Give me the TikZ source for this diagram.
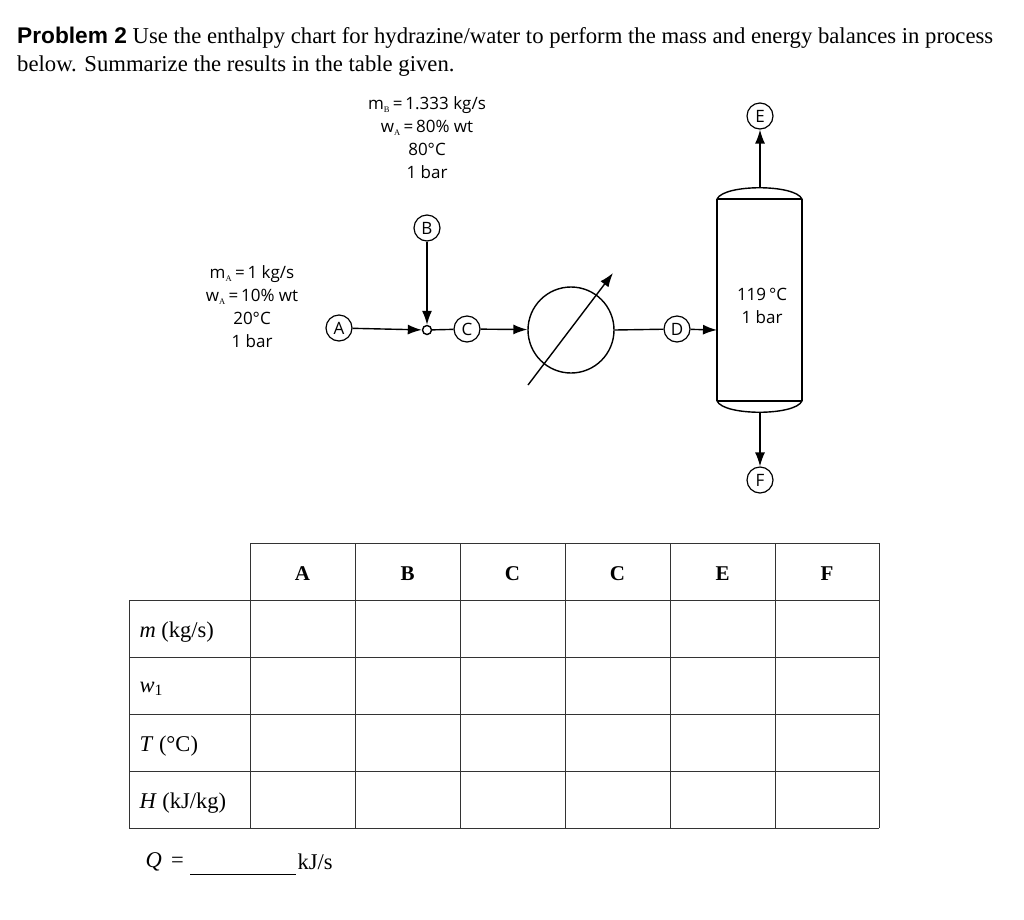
\documentclass[tikz,border=0pt]{standalone}
\usepackage{fontspec}
\setmainfont{Liberation Serif}
\newfontfamily\dsf{Open Sans}
\newfontfamily\tsf{Liberation Sans}
\usetikzlibrary{arrows.meta}
\begin{document}
\begin{tikzpicture}[x=1pt,y=-1pt,
  lbl/.style={circle,draw,line width=1.2pt,inner sep=0pt,minimum size=26pt,font=\dsf\fontsize{17}{17}\selectfont},
  dtxt/.style={align=center,font=\dsf\fontsize{17}{23}\selectfont},
  ln/.style={line width=1.4pt},
  arr/.style={ln,-{Latex[length=14pt,width=10pt]}},
  cell/.style={line width=1pt,draw=black!80},
  hd/.style={font=\bfseries\fontsize{21}{21}\selectfont},
  rl/.style={font=\fontsize{22.5}{21}\selectfont,anchor=west}]
\useasboundingbox (0,0) rectangle (1024,919);
\node[anchor=base west,inner sep=0,font=\fontsize{22.7}{28}\selectfont] (t1) at (17,43) {{\tsf\bfseries Problem 2} Use the enthalpy chart for hydrazine/water to perform the mass and energy balances in process};
\node[anchor=base west,inner sep=0,font=\fontsize{22.7}{28}\selectfont] (t2) at (17,71) {below. Summarize the results in the table given.};
% labels
\node[dtxt] (bt) at (427,138) {m$_{\scriptscriptstyle\rm B}$\,=\,1.333 kg/s\\w$_{\scriptscriptstyle\rm A}$\,=\,80\% wt\\80\textdegree C\\1 bar};
\node[dtxt] (at) at (252,307) {m$_{\scriptscriptstyle\rm A}$\,=\,1 kg/s\\w$_{\scriptscriptstyle\rm A}$\,=\,10\% wt\\20\textdegree C\\1 bar};
% nodes
\node[lbl] (A) at (339,328) {A};
\node[lbl] (B) at (427,228) {B};
\node[circle,draw,ln,inner sep=0,minimum size=9pt] (J) at (427,330) {};
\node[lbl] (C) at (467,329) {C};
\node[circle,draw,ln,minimum size=86pt,inner sep=0] (HX) at (571,330) {};
\coordinate (h1) at (528,385); \coordinate (h2) at (613,273);
\draw[arr] (h1) -- (h2);
\node[lbl] (D) at (677,329) {D};
\node[lbl] (E) at (760,116) {E};
\node[lbl] (F) at (760,480) {F};
% column
\draw[ln] (717,199) -- (717,401) (802,199) -- (802,401) (717,199) -- (802,199) (717,401) -- (802,401);
\draw[ln] (717,199) .. controls (724,184) and (795,184) .. (802,199);
\draw[ln] (717,401) .. controls (724,416) and (795,416) .. (802,401);
\coordinate (ctop) at (760,188); \coordinate (cbot) at (760,412); \coordinate (cin) at (717,330);
\node[dtxt] (ct) at (762,306) {119\,\textdegree C\\1 bar};
% connectors
\draw[arr] (A) -- (J);
\draw[arr] (B) -- (J);
\draw[ln] (J) -- (C);
\draw[arr] (C) -- (HX);
\draw[ln] (HX.east) -- (D);
\draw[arr] (D) -- (cin);
\draw[arr] (ctop) -- (E);
\draw[arr] (cbot) -- (F);
% table
\foreach \x in {250,355,460,565,670,775,879} \draw[cell] (\x,543) -- (\x,828);
\draw[cell] (250,543) -- (879,543);
\foreach \y in {600,657,714,771,828} \draw[cell] (129,\y) -- (879,\y);
\draw[cell] (129,600) -- (129,828);
\node[hd] (hA) at (302.5,574) {A};
\node[hd] (hB) at (407.5,574) {B};
\node[hd] (hC) at (512.5,574) {C};
\node[hd] (hC2) at (617.5,574) {C};
\node[hd] (hE) at (722.5,574) {E};
\node[hd] (hF) at (827,574) {F};
\node[rl] (r1) at (136,632) {\textit{m} (kg/s)};
\node[rl] (r2) at (136,689) {\textit{w}\textsubscript{1}};
\node[rl] (r3) at (136,746) {\textit{T} (\textdegree C)};
\node[rl] (r4) at (136,803) {\textit{H} (kJ/kg)};
\node[rl] (q) at (142,862) {\textit{Q} \,=};
\coordinate (q1) at (190,874); \coordinate (q2) at (296,874);
\draw[line width=1pt] (q1) -- (q2);
\node[rl] (qu) at (294,862) {kJ/s};
\end{tikzpicture}
\end{document}
